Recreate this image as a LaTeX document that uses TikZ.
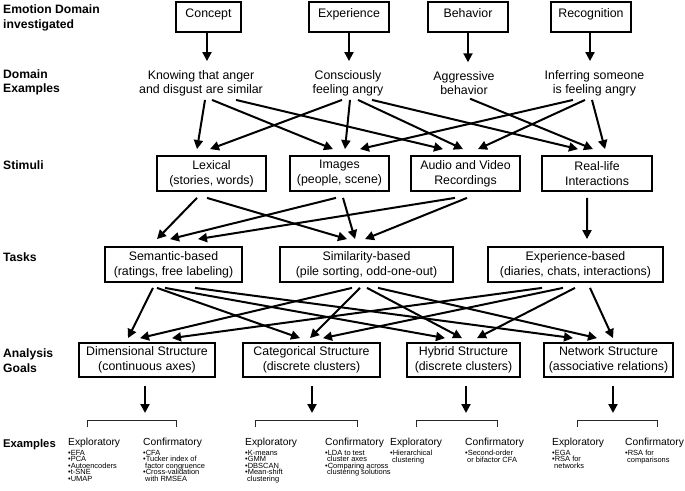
\documentclass[tikz,border=0pt]{standalone}
\usepackage{fontspec}
\setmainfont{Liberation Sans}
\usetikzlibrary{shapes,arrows,arrows.meta,positioning,calc}
\newcommand{\tightlines}{\setlength{\lineskiplimit}{-5pt}}

\begin{document}
\begin{tikzpicture}[x=1bp,y=-1bp]
        % Define styles
        \tikzstyle{block} = [rectangle, draw, line width=1.8bp, align=center,
            inner xsep=3bp, inner ysep=0bp, font=\fontsize{12.4}{15}\selectfont]
        \tikzstyle{domainbox} = [block, minimum height=30bp, text depth=8bp]
        \tikzstyle{stimbox} = [block, minimum height=35bp]
        \tikzstyle{example} = [align=center, inner xsep=2bp, inner ysep=4bp,
            font=\fontsize{12.4}{14}\selectfont]
        \tikzstyle{rowlabel} = [anchor=west, align=left, inner sep=0bp,
            font=\fontsize{12.2}{14.5}\selectfont\bfseries]
        \tikzstyle{arrow} = [line width=2bp, -{Triangle[length=9bp,width=9bp]}]
        \tikzstyle{bracket} = [line width=1bp, black!85]
        \tikzstyle{method} = [anchor=west, inner sep=0bp, font=\fontsize{10.3}{12}\selectfont]
        \tikzstyle{items} = [align=left, inner sep=0bp,
            font=\fontsize{7.5}{6.5}\selectfont\tightlines]

        \useasboundingbox (0,0) rectangle (685,491);

        % Row labels
        \node [rowlabel] (lbldomain) at (3,18) {Emotion Domain\\investigated};
        \node [rowlabel] (lblexamples) at (3,82.5) {Domain\\Examples};
        \node [rowlabel] (lblstimuli) at (3,165) {Stimuli};
        \node [rowlabel] (lbltasks) at (3,257) {Tasks};
        \node [rowlabel] (lblgoals) at (3,360.5) {Analysis\\Goals};
        \node [rowlabel, font=\fontsize{11.3}{13}\selectfont\bfseries] (lblmethods) at (3,445) {Examples};

        % Emotion domains
        \node [domainbox, minimum width=65bp] (concept) at (208.5,17) {Concept};
        \node [domainbox, minimum width=80bp] (experience) at (349,17) {Experience};
        \node [domainbox, minimum width=80bp] (behavior) at (468,17) {Behavior};
        \node [domainbox, minimum width=80bp] (recognition) at (591,17) {Recognition};

        % Domain examples
        \node [example] (knowing) at (201,83) {Knowing that anger\\and disgust are similar};
        \node [example] (conscious) at (348,83) {Consciously\\feeling angry};
        \node [example] (aggressive) at (464,83) {Aggressive\\behavior};
        \node [example] (inferring) at (594.5,83) {Inferring someone\\is feeling angry};

        % Stimuli
        \node [stimbox, minimum width=109bp] (lexical) at (211.5,173.5) {Lexical\\(stories, words)};
        \node [stimbox, minimum width=99bp] (images) at (339.5,173.5) {Images\\(people, scene)};
        \node [stimbox, minimum width=109bp] (audio) at (465.5,173.5) {Audio and Video\\Recordings};
        \node [stimbox, minimum width=110bp] (reallife) at (597,173.5) {Real-life\\Interactions};

        % Tasks
        \node [stimbox, minimum width=137bp] (semantic) at (173.5,264.5) {Semantic-based\\(ratings, free labeling)};
        \node [stimbox, minimum width=173bp] (similarity) at (366.5,264.5) {Similarity-based\\(pile sorting, odd-one-out)};
        \node [stimbox, minimum width=175bp] (expbased) at (575.5,264.5) {Experience-based\\(diaries, chats, interactions)};

        % Analysis goals
        \node [stimbox, minimum width=136bp, minimum height=34bp] (dimensional) at (147,360) {Dimensional Structure\\(continuous axes)};
        \node [stimbox, minimum width=137bp, minimum height=34bp] (categorical) at (311.5,360) {Categorical Structure\\(discrete clusters)};
        \node [stimbox, minimum width=113bp, minimum height=34bp] (hybrid) at (463.5,360) {Hybrid Structure\\(discrete clusters)};
        \node [stimbox, minimum width=129bp, minimum height=34bp] (network) at (608.5,360) {Network Structure\\(associative relations)};

        % Arrows: domains to examples
        \draw [arrow, shorten >=5bp] ([xshift=-1.5bp]concept.south) -- ([xshift=-1.5bp]concept.south |- knowing.north);
        \draw [arrow, shorten >=5bp] (experience.south) -- (experience.south |- conscious.north);
        \draw [arrow, shorten >=5bp] (behavior.south) -- (behavior.south |- aggressive.north);
        \draw [arrow, shorten >=5bp] ([xshift=-1bp]recognition.south) -- ([xshift=-1bp]recognition.south |- inferring.north);

        % Arrows: examples to stimuli
        \draw [arrow] ([xshift=4bp]knowing.south) -- ([xshift=-14.5bp,yshift=6bp]lexical.north);
        \draw [arrow] ([xshift=11bp]knowing.south) -- ([xshift=-6.5bp,yshift=6bp]images.north);
        \draw [arrow] ([xshift=35bp]knowing.south) -- ([xshift=-22.5bp,yshift=6bp]audio.north);
        \draw [arrow] ([xshift=-6bp]conscious.south) -- ([xshift=-1.5bp,yshift=6bp]lexical.north);
        \draw [arrow] ([xshift=2bp]conscious.south) -- ([xshift=5.5bp,yshift=6bp]images.north);
        \draw [arrow] ([xshift=10bp]conscious.south) -- ([xshift=-2.5bp,yshift=6bp]audio.north);
        \draw [arrow] ([xshift=24bp]conscious.south) -- ([xshift=-19bp,yshift=6bp]reallife.north);
        \draw [arrow] ([xshift=6bp]aggressive.south) -- ([xshift=-4bp,yshift=6bp]reallife.north);
        \draw [arrow] ([xshift=-21.5bp]inferring.south) -- ([xshift=20.5bp,yshift=6bp]images.north);
        \draw [arrow] ([xshift=-9.5bp]inferring.south) -- ([xshift=12.5bp,yshift=6bp]audio.north);
        \draw [arrow] ([xshift=-2.5bp]inferring.south) -- ([xshift=8bp,yshift=6bp]reallife.north);

        % Arrows: stimuli to tasks
        \draw [arrow] ([xshift=-14.5bp,yshift=-6bp]lexical.south) -- ([xshift=-16.5bp,yshift=7bp]semantic.north);
        \draw [arrow] ([xshift=-4.5bp,yshift=-6bp]lexical.south) -- ([xshift=-19.5bp,yshift=7bp]similarity.north);
        \draw [arrow] ([xshift=-3.5bp,yshift=-6bp]images.south) -- ([xshift=-3.5bp,yshift=7bp]semantic.north);
        \draw [arrow] ([xshift=3.5bp,yshift=-6bp]images.south) -- ([xshift=-11.5bp,yshift=7bp]similarity.north);
        \draw [arrow] ([xshift=-10.5bp,yshift=-6bp]audio.south) -- ([xshift=24.5bp,yshift=7bp]semantic.north);
        \draw [arrow] ([xshift=1.5bp,yshift=-6bp]audio.south) -- ([xshift=-1.5bp,yshift=7bp]similarity.north);
        \draw [arrow] ([xshift=-10bp,yshift=-6bp]reallife.south) -- ([xshift=11.5bp,yshift=7bp]expbased.north);

        % Arrows: tasks to analysis goals
        \draw [arrow] ([xshift=-20.5bp,yshift=-5bp]semantic.south) -- ([xshift=-19bp,yshift=4bp]dimensional.north);
        \draw [arrow] ([xshift=-16.5bp,yshift=-5bp]semantic.south) -- ([xshift=-11.5bp,yshift=4bp]categorical.north);
        \draw [arrow] ([xshift=-8.5bp,yshift=-5bp]semantic.south) -- ([xshift=-18.5bp,yshift=4bp]hybrid.north);
        \draw [arrow] ([xshift=21.5bp,yshift=-5bp]semantic.south) -- ([xshift=-35.5bp,yshift=4bp]network.north);
        \draw [arrow] ([xshift=-14.5bp,yshift=-5bp]similarity.south) -- ([xshift=-7bp,yshift=4bp]dimensional.north);
        \draw [arrow] ([xshift=-6.5bp,yshift=-5bp]similarity.south) -- ([xshift=-1.5bp,yshift=4bp]categorical.north);
        \draw [arrow] ([xshift=0.5bp,yshift=-5bp]similarity.south) -- ([xshift=-1.5bp,yshift=4bp]hybrid.north);
        \draw [arrow] ([xshift=11.5bp,yshift=-5bp]similarity.south) -- ([xshift=-11.5bp,yshift=4bp]network.north);
        \draw [arrow] ([xshift=-33.5bp,yshift=-5bp]expbased.south) -- ([xshift=25bp,yshift=4bp]dimensional.north);
        \draw [arrow] ([xshift=-12.5bp,yshift=-5bp]expbased.south) -- ([xshift=11.5bp,yshift=4bp]categorical.north);
        \draw [arrow] ([xshift=-0.5bp,yshift=-5bp]expbased.south) -- ([xshift=13.5bp,yshift=4bp]hybrid.north);
        \draw [arrow] ([xshift=14.5bp,yshift=-5bp]expbased.south) -- ([xshift=4.5bp,yshift=4bp]network.north);

        % Brackets under the goals
        \coordinate (dimbr) at (145,420);
        \coordinate (catbr) at (312,420);
        \coordinate (hybbr) at (466,420);
        \coordinate (netbr) at (613,420);
        \draw [bracket] (87,427) |- (176,420) -- (176,427);
        \draw [bracket] (255,427) |- (357,420) -- (357,427);
        \draw [bracket] (416,427) |- (497,420) -- (497,427);
        \draw [bracket] (577,427) |- (657,420) -- (657,427);
        \draw [arrow, shorten >=7bp] ([yshift=-8bp]dimensional.south -| dimbr) -- (dimbr);
        \draw [arrow, shorten >=7bp] ([yshift=-8bp]categorical.south -| catbr) -- (catbr);
        \draw [arrow, shorten >=7bp] ([yshift=-8bp]hybrid.south -| hybbr) -- (hybbr);
        \draw [arrow, shorten >=7bp] ([yshift=-8bp]network.south -| netbr) -- (netbr);

        % Example methods
        \node [method] (dimexpl) at (68,443) {Exploratory};
        \node [method] (dimconf) at (143,443) {Confirmatory};
        \node [method] (catexpl) at (245,443) {Exploratory};
        \node [method] (catconf) at (325,443) {Confirmatory};
        \node [method] (hybexpl) at (390,443) {Exploratory};
        \node [method] (hybconf) at (465,443) {Confirmatory};
        \node [method] (netexpl) at (552,443) {Exploratory};
        \node [method] (netconf) at (625,443) {Confirmatory};

        \node [items, below=2bp of dimexpl.south west, anchor=north west] (dimexplitems)
            {\textbullet EFA\\\textbullet PCA\\\textbullet Autoencoders\\\textbullet t-SNE\\\textbullet UMAP};
        \node [items, below=2bp of dimconf.south west, anchor=north west] (dimconfitems)
            {\textbullet CFA\\\textbullet Tucker index of\\\hspace{2bp}factor congruence\\\textbullet Cross-validation\\\hspace{2bp}with RMSEA};
        \node [items, below=2bp of catexpl.south west, anchor=north west] (catexplitems)
            {\textbullet K-means\\\textbullet GMM\\\textbullet DBSCAN\\\textbullet Mean-shift\\\hspace{2bp}clustering};
        \node [items, below=2bp of catconf.south west, anchor=north west] (catconfitems)
            {\textbullet LDA to test\\\hspace{2bp}cluster axes\\\textbullet Comparing across\\\hspace{2bp}clustering solutions};
        \node [items, below=2bp of hybexpl.south west, anchor=north west] (hybexplitems)
            {\textbullet Hierarchical\\\hspace{2bp}clustering};
        \node [items, below=2bp of hybconf.south west, anchor=north west] (hybconfitems)
            {\textbullet Second-order\\\hspace{2bp}or bifactor CFA};
        \node [items, below=2bp of netexpl.south west, anchor=north west] (netexplitems)
            {\textbullet EGA\\\textbullet RSA for\\\hspace{2bp}networks};
        \node [items, below=2bp of netconf.south west, anchor=north west] (netconfitems)
            {\textbullet RSA for\\\hspace{2bp}comparisons};
    \end{tikzpicture}
\end{document}
